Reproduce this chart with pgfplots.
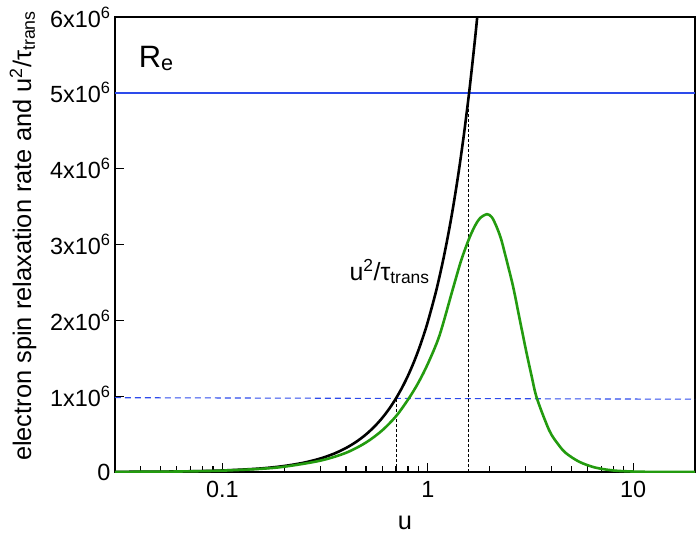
\documentclass[border=0pt]{standalone}
\usepackage{fontspec}
\setmainfont{Liberation Sans}
\usepackage{pgfplots}
\pgfplotsset{compat=1.18}
\definecolor{myblue}{RGB}{45,75,235}
\definecolor{mygreen}{RGB}{35,155,15}
\begin{document}
\begin{tikzpicture}[x=1bp,y=1bp]
\useasboundingbox (-115bp,-61bp) rectangle (585bp,472bp);
\begin{axis}[
  at={(0,0)}, anchor=south west,
  scale only axis, width=580bp, height=455bp,
  xmode=log, xmin=0.03, xmax=20, ymin=0, ymax=6e6,
  xtick={0.1,1,10}, xticklabels={0.1,1,10},
  minor xtick={0.04,0.05,0.06,0.07,0.08,0.09,0.2,0.3,0.4,0.5,0.6,0.7,0.8,0.9,2,3,4,5,6,7,8,9},
  ytick={0,1e6,2e6,3e6,4e6,5e6,6e6},
  yticklabels={0,1x10\textsuperscript{6},2x10\textsuperscript{6},3x10\textsuperscript{6},4x10\textsuperscript{6},5x10\textsuperscript{6},6x10\textsuperscript{6}},
  scaled y ticks=false,
  xtick pos=bottom, ytick pos=left,
  tick align=inside,
  major tick length=9bp, minor tick length=6bp,
  axis line style={line width=1.6bp},
  every tick/.style={black, line width=1.3bp},
  tick label style={font=\fontsize{23.5}{23.5}\selectfont},
  xticklabel style={yshift=-6bp},
  yticklabel style={xshift=-1bp},
  xlabel={u},
  ylabel={electron spin relaxation rate and u\textsuperscript{2}/τ\textsubscript{trans}},
  label style={font=\fontsize{25.5}{25.5}\selectfont},
  xlabel style={at={(axis description cs:0.5,0)}, anchor=base, inner sep=0pt, yshift=-57bp},
  ylabel style={at={(axis description cs:0,0.519)}, anchor=center, inner sep=0pt, yshift=92bp},
]
% dashed blue level
\addplot[myblue, line width=1.1bp, dash pattern=on 6bp off 4bp] coordinates {(0.03,0.98e6) (20,0.96e6)};
% solid blue level
\addplot[myblue, line width=1.7bp] coordinates {(0.03,5e6) (20,5e6)};
% vertical dashed markers
\addplot[black, line width=1.1bp, dash pattern=on 3bp off 2bp] coordinates {(0.703,0) (0.703,0.974e6)};
\addplot[black, line width=1.1bp, dash pattern=on 3bp off 2bp] coordinates {(1.585,0) (1.585,5e6)};
% black curve u^2/tau_trans
\addplot[black, line width=2.6bp, smooth] coordinates {
(0.03,1782) (0.05,4950) (0.07,9702) (0.1,19800) (0.15,44550) (0.2,79200)
(0.25,123750) (0.3,178200) (0.35,242550) (0.4,316800) (0.45,400950) (0.5,495000)
(0.55,598950) (0.6,712800) (0.65,836550) (0.7,970200) (0.75,1113750) (0.8,1267200)
(0.85,1430550) (0.9,1603800) (0.95,1786950) (1.0,1980000) (1.1,2395800) (1.2,2851200)
(1.3,3346200) (1.4,3880800) (1.5,4455000) (1.6,5068800) (1.7,5722200) (1.75,6063750)};
% green curve
\addplot[mygreen, line width=2.6bp, smooth] coordinates {
(0.03,1600) (0.05,4500) (0.07,8800) (0.1,18200) (0.15,40100) (0.2,69700)
(0.3,149700) (0.4,253400) (0.5,388600) (0.6,548900) (0.703,740700) (0.81,974000)
(0.9,1178800) (1.0,1425600) (1.14,1800000) (1.32,2400000) (1.45,2780000) (1.585,3070000)
(1.7,3250000) (1.8,3350000) (1.945,3400000) (2.05,3360000) (2.15,3250000) (2.27,3080000)
(2.4,2830000) (2.6,2450000) (2.79,2040000) (3.01,1600000) (3.2,1270000) (3.4,970000)
(3.9,550000) (4.3,370000) (4.7,250000) (5.46,135000) (6.5,60000) (8,20000)
(10,6000) (13,1000) (20,0)};
\node[anchor=base west, font=\fontsize{31}{31}\selectfont] at (rel axis cs:0.035,0.89) {R\textsubscript{e}};
\node[anchor=base west, font=\fontsize{25}{25}\selectfont] at (axis cs:0.40,2.53e6) {u\textsuperscript{2}/τ\textsubscript{trans}};
\end{axis}
\end{tikzpicture}
\end{document}
